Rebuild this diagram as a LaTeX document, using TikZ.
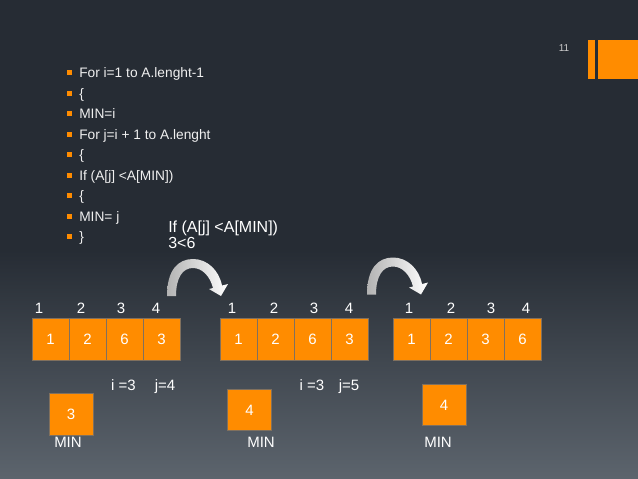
\documentclass[tikz,border=0pt]{standalone}
\usepackage{fontspec}
\setmainfont{Liberation Sans}
\usepackage{tikz}
\usetikzlibrary{calc,positioning}
\definecolor{slideorange}{RGB}{255,140,0}
\definecolor{bgtop}{RGB}{38,44,52}
\definecolor{bgbottom}{RGB}{92,100,109}
\definecolor{cellline}{RGB}{128,112,94}
\newcommand{\swaparrow}[1]{%
  \shade[left color=gray!60,right color=white,shift={#1}]
    (167,296) .. controls (167,270) and (178,259) .. (193,259)
    .. controls (207,259) and (219,270) .. (222,285.5)
    -- (228,284) -- (221,296) -- (209,289) -- (213,288)
    .. controls (210,276) and (202,268) .. (193,268)
    .. controls (183,268) and (176,277) .. (176,296) -- cycle;}
\tikzset{
  cell/.style={draw=cellline,fill=slideorange,line width=0.75pt,outer sep=0pt,inner sep=0pt,
               minimum width=27.75pt,minimum height=31.5pt,text=white,
               font=\fontsize{11.25}{13}\selectfont},
  minbox/.style={cell,minimum width=33pt,minimum height=31pt},
  idx/.style={text=white,inner sep=0pt,anchor=base,font=\fontsize{11.25}{13}\selectfont},
  codeline/.style={text=white!94!black,inner sep=0pt,anchor=base west,
                   font=\fontsize{10.3}{12}\selectfont}
}

\begin{document}
\begin{tikzpicture}[x=0.75pt,y=-0.75pt,
  cond/.style={text=white,inner sep=0pt,anchor=base west,font=\fontsize{12}{14}\selectfont},
  pagenum/.style={text=white!80!black,inner sep=0pt,font=\fontsize{7.5}{9}\selectfont}]
  \useasboundingbox (0,0) rectangle (638,478);
  % slide background
  \fill[bgtop] (0,0) rectangle (638,250);
  \shade[top color=bgtop,bottom color=bgbottom] (0,250) rectangle (638,478);
  \fill[slideorange] (588,40) rectangle (595,79);
  \fill[slideorange] (598,40) rectangle (638,79);
  \node[pagenum] (page) at (564,48) {11};
  % pseudo code
  \foreach \txt [count=\k] in {{For i=1 to A.lenght-1},{\{},{MIN=i},{For j=i + 1 to A.lenght},
      {\{},{If (A[j] <A[MIN])},{\{},{MIN= j},{\}}}{
    \pgfmathsetmacro\ly{72.7+(\k-1)*20.5}
    \fill[slideorange] (66.8,\ly-2.5) rectangle ++(5,5);
    \node[codeline] (line\k) at (79,\ly+4.9) {\txt};
  }
  \node[cond] (cond) at (168,232.7) {If (A[j] <A[MIN])};
  \node[cond] (cmp) at (168,248.7) {3<6};
  % swap arrows
  \swaparrow{(0,0)}
  \swaparrow{(200,-1.5)}
  % first array
  \node[cell] (a1) at (50.5,339) {1};
  \node[cell,right=0pt of a1] (a2) {2};
  \node[cell,right=0pt of a2] (a3) {6};
  \node[cell,right=0pt of a3] (a4) {3};
  % second array
  \node[cell] (b1) at (238.5,339) {1};
  \node[cell,right=0pt of b1] (b2) {2};
  \node[cell,right=0pt of b2] (b3) {6};
  \node[cell,right=0pt of b3] (b4) {3};
  % third array
  \node[cell] (c1) at (411.5,339) {1};
  \node[cell,right=0pt of c1] (c2) {2};
  \node[cell,right=0pt of c2] (c3) {3};
  \node[cell,right=0pt of c3] (c4) {6};
  % indices
  \foreach \x/\n in {39/1,81/2,121/3,156/4,232/1,274/2,314/3,349/4,409/1,451/2,491/3,526/4}
    \node[idx] (pos\x) at (\x,313) {\n};
  \node[idx] (ia) at (123.5,390.4) {i =3};
  \node[idx] (ja) at (165,390.4) {j=4};
  \node[idx] (ib) at (312,390.4) {i =3};
  \node[idx] (jb) at (349,390.4) {j=5};
  % current minimum
  \node[minbox] (m1) at (71,414.5) {3};
  \node[minbox] (m2) at (249.5,410) {4};
  \node[minbox] (m3) at (444,405) {4};
  \node[idx] (mlab1) at (68,447.4) {MIN};
  \node[idx] (mlab2) at (261,447.4) {MIN};
  \node[idx] (mlab3) at (438,447.4) {MIN};
\end{tikzpicture}
\end{document}
